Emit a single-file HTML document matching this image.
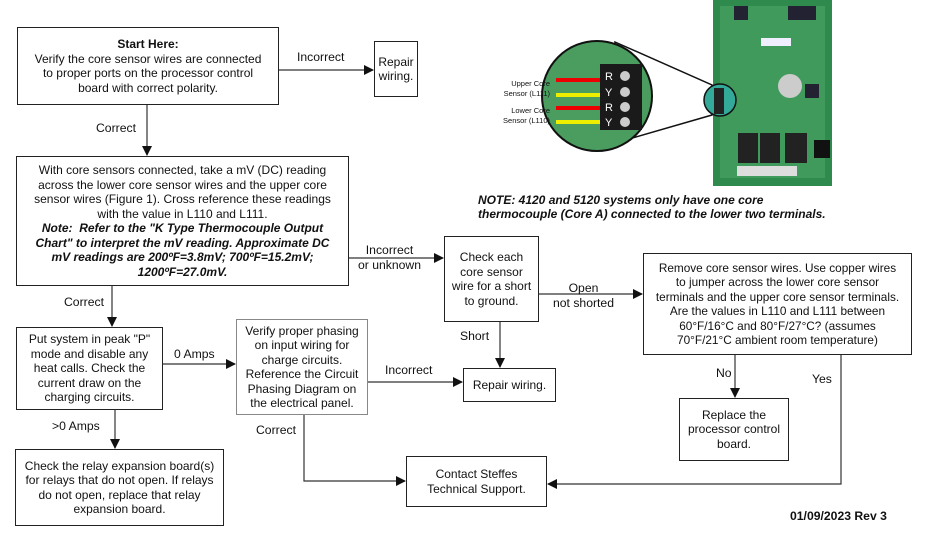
<!DOCTYPE html>
<html><head><meta charset="utf-8"><style>
body{margin:0;width:927px;height:548px;background:#fff;position:relative;overflow:hidden;font-family:"Liberation Sans",Arial,sans-serif;color:#111}
.b{position:absolute;border:1.3px solid #222;box-sizing:border-box;text-align:center;font-size:12px;line-height:14.5px;display:flex;flex-direction:column;justify-content:center;align-items:center;background:#fff}
.l{position:absolute;font-size:12.2px;line-height:14.5px;text-align:center;white-space:nowrap}
svg{position:absolute;left:0;top:0}
</style></head><body>
<svg width="927" height="548">
<defs><marker id="a" markerWidth="10" markerHeight="10" refX="9" refY="5" orient="auto" markerUnits="userSpaceOnUse"><path d="M0,0 L10,5 L0,10 z" fill="#111"/></marker></defs>
<g stroke="#333" stroke-width="1.2" fill="none">
<line x1="279" y1="70" x2="373" y2="70" marker-end="url(#a)"/>
<line x1="147" y1="105" x2="147" y2="155" marker-end="url(#a)"/>
<line x1="349" y1="258" x2="443" y2="258" marker-end="url(#a)"/>
<line x1="539" y1="294" x2="642" y2="294" marker-end="url(#a)"/>
<line x1="112" y1="286" x2="112" y2="326" marker-end="url(#a)"/>
<line x1="163" y1="364" x2="235" y2="364" marker-end="url(#a)"/>
<line x1="368" y1="382" x2="462" y2="382" marker-end="url(#a)"/>
<line x1="500" y1="322" x2="500" y2="367" marker-end="url(#a)"/>
<line x1="115" y1="410" x2="115" y2="448" marker-end="url(#a)"/>
<polyline points="304,415 304,481 405,481" marker-end="url(#a)"/>
<line x1="735" y1="355" x2="735" y2="397" marker-end="url(#a)"/>
<polyline points="841,355 841,484 548,484" marker-end="url(#a)"/>
</g>
<rect x="713" y="0" width="119" height="186" fill="#2f8a4e"/>
<rect x="720" y="6" width="105" height="172" fill="#3f9a5c"/>
<rect x="734" y="6" width="14" height="14" fill="#223"/><rect x="788" y="6" width="14" height="14" fill="#223"/><rect x="802" y="6" width="14" height="14" fill="#223"/>
<rect x="761" y="38" width="30" height="8" fill="#eef"/>
<circle cx="790" cy="86" r="12" fill="#ccc"/><rect x="805" y="84" width="14" height="14" fill="#223"/>
<rect x="738" y="133" width="20" height="30" fill="#222"/><rect x="760" y="133" width="20" height="30" fill="#222"/><rect x="785" y="133" width="22" height="30" fill="#222"/><rect x="814" y="140" width="16" height="18" fill="#111"/>
<rect x="737" y="166" width="60" height="10" fill="#ddd"/>
<polygon points="615,42 712,85 712,115 615,143" fill="none" stroke="#111" stroke-width="1.5"/>
<circle cx="720" cy="100" r="16" fill="#3a9" stroke="#111" stroke-width="1.5"/>
<rect x="714" y="88" width="10" height="26" fill="#222"/>
<circle cx="597" cy="96" r="55" fill="#4a9d5f" stroke="#111" stroke-width="2"/>
<rect x="600" y="64" width="42" height="66" fill="#1a1a1a"/>
<g fill="#ccc"><circle cx="625" cy="76" r="5"/><circle cx="625" cy="92" r="5"/><circle cx="625" cy="107" r="5"/><circle cx="625" cy="122" r="5"/></g>
<g fill="#fff" font-size="11" font-family="Liberation Sans"><text x="605" y="80">R</text><text x="605" y="96">Y</text><text x="605" y="111">R</text><text x="605" y="126">Y</text></g>
<g stroke-width="4"><line x1="556" y1="80" x2="600" y2="80" stroke="#e00"/><line x1="556" y1="95" x2="600" y2="95" stroke="#ee0"/><line x1="556" y1="108" x2="600" y2="108" stroke="#e00"/><line x1="556" y1="122" x2="600" y2="122" stroke="#ee0"/></g>
<g font-size="7.5" font-family="Liberation Sans" text-anchor="end" fill="#111"><text x="550" y="86">Upper Core</text><text x="550" y="96">Sensor (L111)</text><text x="550" y="113">Lower Core</text><text x="550" y="123">Sensor (L110)</text></g>
</svg>
<div class="l" style="left:478px;top:193px;font-size:12px;font-weight:bold;font-style:italic;text-align:left;line-height:14px">NOTE: 4120 and 5120 systems only have one core<br>thermocouple (Core A) connected to the lower two terminals.</div>

<div class="b" style="left:17px;top:27px;width:262px;height:78px;padding:0 14px"><b>Start Here:</b>Verify the core sensor wires are connected to proper ports on the processor control board with correct polarity.</div>
<div class="b" style="left:374px;top:41px;width:44px;height:56px">Repair wiring.</div>
<div class="l" style="left:297px;top:50px">Incorrect</div>
<div class="l" style="left:96px;top:121px">Correct</div>
<div class="b" style="left:16px;top:156px;width:333px;height:130px;padding:0 8px">With core sensors connected, take a mV (DC) reading across the lower core sensor wires and the upper core sensor wires (Figure 1). Cross reference these readings with the value in L110 and L111.<br><b><i>Note:&nbsp; Refer to the "K Type Thermocouple Output Chart" to interpret the mV reading. Approximate DC mV readings are 200ºF=3.8mV; 700ºF=15.2mV; 1200ºF=27.0mV.</i></b></div>
<div class="l" style="left:358px;top:243px">Incorrect<br>or unknown</div>
<div class="b" style="left:444px;top:236px;width:95px;height:86px;white-space:nowrap">Check each<br>core sensor<br>wire for a short<br>to ground.</div>
<div class="l" style="left:553px;top:281px">Open<br>not shorted</div>
<div class="b" style="left:643px;top:253px;width:269px;height:102px;white-space:nowrap;font-size:11.8px">Remove core sensor wires. Use copper wires<br>to jumper across the lower core sensor<br>terminals and the upper core sensor terminals.<br>Are the values in L110 and L111 between<br>60°F/16°C and 80°F/27°C? (assumes<br>70°F/21°C ambient room temperature)</div>
<div class="l" style="left:64px;top:295px">Correct</div>
<div class="b" style="left:16px;top:327px;width:147px;height:83px;padding:0 6px">Put system in peak "P" mode and disable any heat calls. Check the current draw on the charging circuits.</div>
<div class="l" style="left:174px;top:347px">0 Amps</div>
<div class="b" style="left:236px;top:319px;width:132px;height:96px;border-color:#888;padding:0 4px">Verify proper phasing on input wiring for charge circuits. Reference the Circuit Phasing Diagram on the electrical panel.</div>
<div class="l" style="left:385px;top:363px">Incorrect</div>
<div class="l" style="left:460px;top:329px">Short</div>
<div class="b" style="left:463px;top:368px;width:93px;height:34px">Repair wiring.</div>
<div class="l" style="left:52px;top:419px">&gt;0 Amps</div>
<div class="l" style="left:256px;top:423px">Correct</div>
<div class="b" style="left:15px;top:449px;width:209px;height:77px;padding:0 4px">Check the relay expansion board(s) for relays that do not open. If relays do not open, replace that relay expansion board.</div>
<div class="b" style="left:406px;top:456px;width:141px;height:51px;padding:0 14px">Contact Steffes Technical Support.</div>
<div class="l" style="left:716px;top:366px">No</div>
<div class="l" style="left:812px;top:372px">Yes</div>
<div class="b" style="left:679px;top:398px;width:110px;height:63px">Replace the processor control board.</div>
<div class="l" style="left:790px;top:509px;font-weight:bold">01/09/2023 Rev 3</div>
</body></html>
